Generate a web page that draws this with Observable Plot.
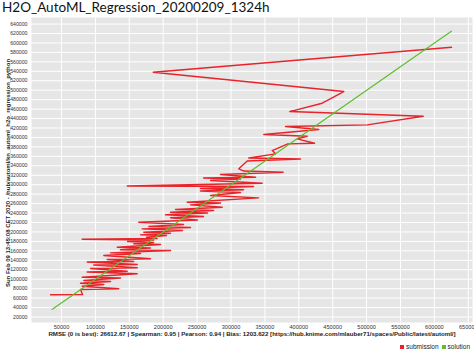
<!DOCTYPE html>
<html><head><meta charset="utf-8">
<script src="https://cdn.jsdelivr.net/npm/d3@7"></script>
<script src="https://cdn.jsdelivr.net/npm/@observablehq/plot@0.6"></script>
<style>
html,body{margin:0;padding:0;background:#fff;}
body{width:474px;height:355px;overflow:hidden;position:relative;font-family:"Liberation Sans",Arial,sans-serif;}
#title{position:absolute;left:2px;top:-1px;font-family:Lato,"Liberation Sans",sans-serif;font-size:13.5px;color:#111;white-space:nowrap;}
#chart{position:absolute;left:0;top:14px;}
#legend{position:absolute;right:4px;top:343px;font-size:6.5px;color:#222;white-space:nowrap;}
#legend span.sw{display:inline-block;width:4px;height:4px;margin:0 2px 0 3px;vertical-align:0px;}
</style></head><body>
<div id="title">H2O_AutoML_Regression_20200209_1324h</div>
<div id="chart"></div>
<div id="legend"></div>
<script>
// red series: submission (x) against solution (y), in the row order of the picture
const submission = [625300,185300,466400,434500,386700,583500,500900,380400,429500,348400,
  412400,397700,423200,383800,360800,365700,326300,402500,323900,311500,
  318900,377000,284500,336200,259500,314000,269800,346000,146900,333200,
  255000,318500,255000,314000,269800,340600,235400,284500,240300,287000,
  218200,274200,210800,265400,203400,259500,210800,250600,164000,230000,
  178800,240300,169000,228500,171400,210800,166500,204900,175400,191200,
  80500,186100,147400,185700,156600,196000,132200,181300,137000,210800,
  122300,166500,112400,181300,117400,156600,87900,161700,97600,161700,
  92800,146900,87900,161700,80500,137000,82900,122300,78000,112400,
  80500,134500,78000,81000,33800];
const solutionRows = [590900,538000,497200,472400,454800,444900,426700,423100,416800,406200,
  402600,397100,387800,386500,372300,365300,356400,354300,350100,333600,
  328900,326400,321500,315800,314100,312000,308800,303100,297200,296100,
  291900,289200,286600,283400,277100,272200,262900,261200,257400,252300,
  247500,245400,241800,240100,236300,232700,229900,225300,220600,215700,
  211500,209400,206600,203000,199400,197300,193900,192500,188900,186100,
  184400,182900,179800,177600,174900,173400,167700,166000,162200,160700,
  155800,154400,150100,143200,141700,137400,136400,131100,130000,124100,
  122600,116900,115200,111400,104200,102500,97200,95100,91500,88800,
  85200,79700,78200,67600,67000];
// green series: solution against itself (min and max)
const solution = [36000, 625000];
const xTicks = [50000,100000,150000,200000,250000,300000,350000,400000,450000,500000,550000,600000,650000];
const yTicks = [20000,40000,60000,80000,100000,120000,140000,160000,180000,200000,220000,240000,260000,280000,300000,320000,340000,360000,380000,400000,420000,440000,460000,480000,500000,520000,540000,560000,580000,600000,620000,640000];
const seriesNames = ["submission","solution"];
const seriesColors = ["#e8232a","#5cbf2a"];
const xLabel = "RMSE (0 is best): 26612.67 | Spearman: 0.95 | Pearson: 0.94 | Bias: 1203.622 [https://hub.knime.com/mlauber71/spaces/Public/latest/automl/]";
const yLabel = "Sun Feb 09 13:45:08 CET 2020 - /hub/automl/kn_automl_h2o_regression_python";

const redData = submission.map((s,i)=>({x:s,y:solutionRows[i]}));
const greenData = solution.map(s=>({x:s,y:s}));

const chart = Plot.plot({
  width: 474, height: 328,
  marginTop: 3, marginBottom: 20, marginLeft: 31, marginRight: 2,
  style: {background: "transparent", fontFamily: "'Liberation Sans', Arial, sans-serif"},
  x: {domain: [5750, 656200], label: null},
  y: {domain: [8360, 653860], label: null},
  marks: [
    Plot.frame({fill: "#e6e6e6", stroke: null}),
    Plot.gridX(xTicks, {stroke: "#fff", strokeOpacity: 1, strokeWidth: 1}),
    Plot.gridY(yTicks, {stroke: "#fff", strokeOpacity: 1, strokeWidth: 1}),
    Plot.axisX(xTicks, {tickSize: 0, tickPadding: 3, fontSize: 5.6, fill: "#333", tickFormat: d3.format("d"), label: null}),
    Plot.axisY(yTicks, {tickSize: 0, tickPadding: 4, fontSize: 5.2, fill: "#333", tickFormat: d3.format("d"), label: null}),
    Plot.line(redData, {x: "x", y: "y", stroke: seriesColors[0], strokeWidth: 1.4}),
    Plot.line(greenData, {x: "x", y: "y", stroke: seriesColors[1], strokeWidth: 1.2}),
    Plot.text([xLabel], {frameAnchor: "bottom", dy: 13, fontSize: 5.6, fontWeight: "bold", fill: "#222", textAnchor: "middle"}),
    Plot.text([yLabel], {frameAnchor: "left", dx: -23.5, dy: 3, rotate: -90, textAnchor: "middle", fontSize: 5.6, fontWeight: "bold", fill: "#222"})
  ]
});
document.getElementById("chart").appendChild(chart);
// scale the two long labels' font size so they span the lengths seen in the reference
d3.select(chart).selectAll("text").each(function(){
  const t = this.textContent;
  let target = 0;
  if (t === xLabel) target = 408;
  if (t === yLabel) target = 228;
  if (target) {
    const len = this.getComputedTextLength();
    if (len > 0) this.setAttribute("font-size", (5.6 * target / len).toFixed(2));
  }
});

const lg = document.getElementById("legend");
seriesNames.forEach((n,i)=>{
  const sw = document.createElement("span"); sw.className = "sw"; sw.style.background = seriesColors[i];
  lg.appendChild(sw);
  lg.appendChild(document.createTextNode(n));
});
</script>
</body></html>
